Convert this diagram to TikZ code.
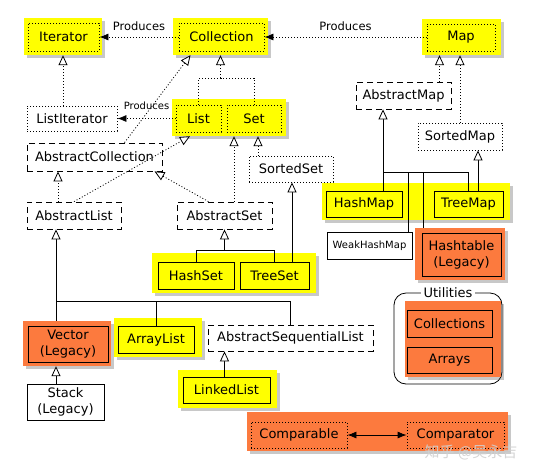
\documentclass[tikz,border=0pt]{standalone}
\usepackage{fontspec}
\setmainfont{DejaVu Sans}
\newfontfamily\cjkfont{Noto Sans CJK SC}
\usetikzlibrary{arrows.meta,shadows,calc}
\definecolor{yel}{RGB}{255,255,0}
\definecolor{ora}{RGB}{252,122,62}
\tikzset{
  sz/.style 2 args={minimum width=#1pt, minimum height=#2pt},
  box/.style={inner sep=0pt, font=\fontsize{13}{16}\selectfont, align=center, line width=0.8pt},
  iface/.style={box, draw, dash pattern=on 1pt off 2pt},
  absbox/.style={box, draw, dash pattern=on 6pt off 4pt},
  conc/.style={box, draw},
  ybg/.style={inner sep=0pt, fill=yel, drop shadow={shadow xshift=3pt, shadow yshift=-3pt, opacity=0.3, fill=black!70}},
  obg/.style={inner sep=0pt, fill=ora, drop shadow={shadow xshift=3pt, shadow yshift=-3pt, opacity=0.3, fill=black!70}},
  conn/.style={line width=0.8pt},
  dotconn/.style={conn, dash pattern=on 1pt off 2pt},
  gen/.style={-{Triangle[length=10pt,width=9pt,fill=white]}},
  prod/.style={dotconn, -{Latex[length=9pt,width=7pt]}},
  lbl/.style={inner sep=0pt, font=\fontsize{11.5}{13}\selectfont},
  lbls/.style={inner sep=0pt, font=\fontsize{10}{12}\selectfont},
}
\begin{document}
\begin{tikzpicture}[x=1pt,y=-1pt]
\path[use as bounding box, fill=white] (0,0) rectangle (533,472);

% backgrounds
\node[ybg, sz={78}{37}] (iterbg) at (63,36.5) {};
\node[ybg, sz={95}{37}] (collbg) at (220.5,36.5) {};
\node[ybg, sz={79}{36}] (mapbg) at (461.5,37) {};
\node[ybg, sz={114}{37}] (lsbg) at (229,117.5) {};
\node[ybg, sz={188}{37}] (hmbg) at (416,201.5) {};
\node[obg, sz={90}{52}] (htbg) at (460,254) {};
\node[ybg, sz={164}{40}] (hsbg) at (234,273) {};
\node[obg, sz={88}{45}] (vecbg) at (67,343.5) {};
\node[ybg, sz={88}{39}] (albg) at (158,337.5) {};
\node[ybg, sz={99}{38}] (llbg) at (227.5,389) {};
\node[draw, line width=0.8pt, rounded corners=12pt, sz={108}{91}, inner sep=0pt] (util) at (448,338.5) {};
\node[obg, sz={96}{76}] (utbg) at (453,339) {};
\node[obg, sz={261}{39}] (cmpbg) at (377.5,431.5) {};

% classes
\node[iface, sz={71}{28}] (iter) at (63.5,37) {Iterator};
\node[iface, sz={85}{28}] (coll) at (221.5,37) {Collection};
\node[iface, sz={68}{27}] (map) at (461,37.5) {Map};
\node[iface, sz={90}{25}] (listit) at (72,118.5) {ListIterator};
\node[iface, sz={45}{27}] (list) at (198.5,118.5) {List};
\node[iface, sz={54}{27}] (set) at (254,118.5) {Set};
\node[absbox, sz={135}{28}] (abscoll) at (94.5,157) {AbstractCollection};
\node[absbox, sz={94}{27}] (absl) at (74,215.5) {AbstractList};
\node[absbox, sz={95}{27}] (abss) at (224.5,215.5) {AbstractSet};
\node[iface, sz={84}{26}] (ss) at (291,169) {SortedSet};
\node[absbox, sz={95}{27}] (am) at (403.5,95.5) {AbstractMap};
\node[iface, sz={84}{27}] (sm) at (460,136.5) {SortedMap};
\node[conc, sz={76}{26}] (hm) at (364,204) {HashMap};
\node[conc, sz={69}{26}] (tm) at (468.5,204) {TreeMap};
\node[conc, sz={85}{27}, font=\fontsize{10}{12}\selectfont] (whm) at (369.5,245.5) {WeakHashMap};
\node[conc, sz={79}{43}] (ht) at (461.5,254.5) {Hashtable\\(Legacy)};
\node[conc, sz={76}{27}] (hs) at (196,275.5) {HashSet};
\node[conc, sz={69}{27}] (ts) at (274.5,275.5) {TreeSet};
\node[conc, sz={80}{36}] (vec) at (68,344) {Vector\\(Legacy)};
\node[conc, sz={77}{36}] (stack) at (65.5,402) {Stack\\(Legacy)};
\node[conc, sz={76}{27}] (al) at (156,339.5) {ArrayList};
\node[absbox, sz={165}{26}] (asl) at (290.5,338) {AbstractSequentialList};
\node[conc, sz={87}{26}] (ll) at (226.5,390) {LinkedList};
\node[box, fill=white, inner xsep=3pt] (utl) at (448,293) {Utilities};
\node[conc, sz={85}{27}] (colls) at (449.5,323.5) {Collections};
\node[conc, sz={85}{26}] (arrs) at (449.5,360) {Arrays};
\node[iface, sz={96}{26}] (cmpb) at (299,435) {Comparable};
\node[iface, sz={97}{26}] (cmpr) at (455.5,435) {Comparator};

% produces
\draw[prod] (coll.west) -- node[lbl, above=6pt] {Produces} (iter.east);
\draw[prod] (map.west |- coll.east) -- node[lbl, above=6pt] {Produces} (coll.east);
\draw[prod] (list.west) -- node[lbls, above=8pt] {Produces} (listit.east);

% interface / abstract generalisations
\draw[dotconn, gen] (listit.north -| iterbg.south) -- (iterbg.south);
\coordinate (lsj) at ($(collbg.south)+(0,23)$);
\draw[dotconn] (list.north) |- (lsj) -| (set.north);
\draw[dotconn, gen] (lsj) -- (collbg.south);
\draw[dotconn, gen] ($(abscoll.north)+(30,0)$) -- ($(collbg.south)+(-30,0)$);
\draw[dotconn, gen] ($(absl.north)+(-16,0)$) -- ($(abscoll.south)+(-36.5,0)$);
\draw[dotconn, gen] (absl.north) -- ($(lsbg.south)+(-39,0)$);
\draw[dotconn, gen] ($(abss.north)+(-16,0)$) -- ($(abscoll.south)+(60,0)$);
\draw[dotconn, gen] ($(abss.north)+(9.5,0)$) -- ($(lsbg.south)+(5,0)$);
\draw[dotconn, gen] ($(ss.north)+(-33,0)$) -- ($(lsbg.south)+(29,0)$);
\draw[dotconn, gen] ($(am.north)+(36,0)$) -- ($(mapbg.south)+(-22,0)$);
\draw[dotconn, gen] (sm.north) -- (sm.north |- mapbg.south);

% set implementations
\coordinate (hsj) at ($(abss.south)+(0,21)$);
\draw[conn] (hs.north) |- (hsj) -| (ts.north);
\draw[conn, gen] (hsj) -- (abss.south);
\draw[conn, gen] ($(ts.north)+(17.5,0)$) -- ($(ss.south)+(1,0)$);

% list implementations
\coordinate (alj) at ($(absl.south)+(-18,72)$);
\draw[conn, gen] (alj) -- (alj |- absl.south);
\draw[conn] (alj) -- (alj |- vecbg.north);
\draw[conn] (alj) -| (al.north);
\draw[conn] (alj) -| (asl.north);
\draw[conn, gen] (alj |- stack.north) -- (alj |- vecbg.south);
\coordinate (llx) at ($(ll.north)+(-2,0)$);
\draw[conn, gen] (llx) -- (llx |- asl.south);

% map implementations
\coordinate (amj) at ($(am.south)+(-20.5,63)$);
\coordinate (amj2) at ($(amj)+(25,0)$);
\coordinate (amj3) at ($(amj)+(40,0)$);
\draw[conn, gen] (amj) -- (amj |- am.south);
\draw[conn] (amj) -- (amj |- hm.north);
\draw[conn] (amj) -| (tm.north);
\draw[conn] (amj2) -- (amj2 |- whm.north);
\draw[conn] (amj3) -- (amj3 |- htbg.north);
\draw[conn, gen] ($(tm.north)+(9.5,0)$) -- ($(sm.south)+(18,0)$);

% comparable <-> comparator
\draw[conn, {Latex[length=9pt,width=7pt]}-{Latex[length=9pt,width=7pt]}] (cmpb.east) -- (cmpr.west);

% watermark
\node[inner sep=0pt, font=\cjkfont\fontsize{15}{15}\selectfont, text=white!82!black, opacity=0.9] (wm) at (471,452) {知乎 @吴永吉};
\end{tikzpicture}
\end{document}
